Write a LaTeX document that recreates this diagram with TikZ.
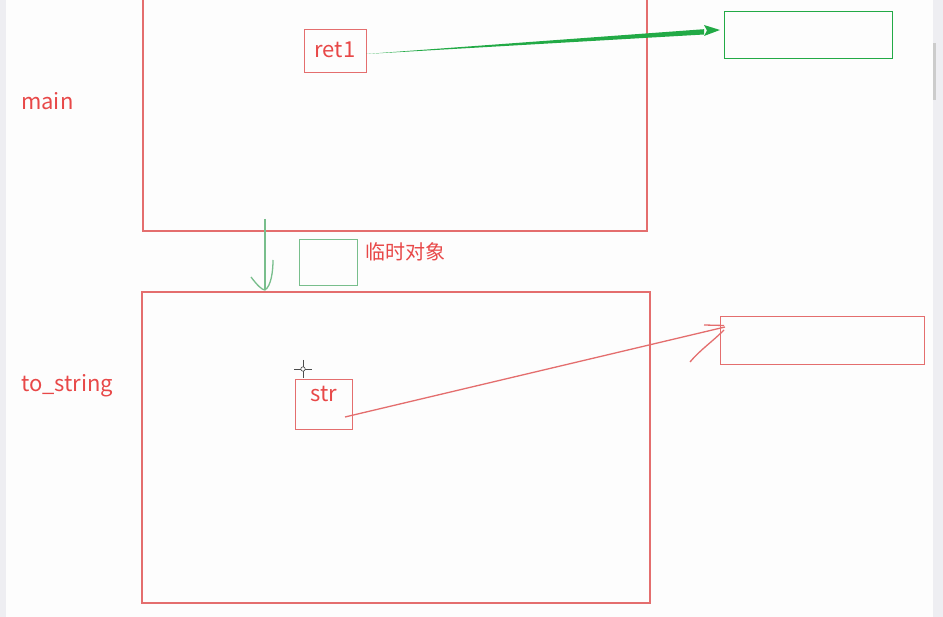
\documentclass[tikz,border=0pt]{standalone}
\usepackage{fontspec}
\setmainfont{Noto Sans CJK SC}
\usetikzlibrary{arrows.meta}
\definecolor{rd}{RGB}{228,110,110}
\definecolor{rdt}{RGB}{232,72,72}
\definecolor{gr}{RGB}{34,170,70}
\definecolor{lgr}{RGB}{120,190,140}
\definecolor{bg}{RGB}{253,253,253}
\definecolor{strip}{RGB}{238,238,242}
\begin{document}
\begin{tikzpicture}[x=1pt,y=-1pt,
  frame/.style={draw=rd,line width=1.3pt},
  txt/.style={text=rdt,font=\fontsize{22}{26}\selectfont,inner sep=0pt},
  box/.style={draw=rd,line width=1.3pt,inner sep=0pt}]
\useasboundingbox (0,0) rectangle (943,617);
\fill[bg] (0,0) rectangle (943,617);
\fill[strip] (0,0) rectangle (6,617);
\fill[strip] (933,0) rectangle (943,617);
\fill[black!20] (933,43) rectangle (936,100);
% frames
\draw[frame] (143,-2) |- (647,231) -- (647,-2);
\draw[frame] (142,292) rectangle (650,603);
\node[txt,anchor=west] (lmain) at (21,101) {main};
\node[txt,anchor=west] (lts) at (21,386) {to\_string};
% ret1
\node[box,minimum width=62pt,minimum height=43pt,anchor=north west] (ret) at (304,29) {};
\node[txt] (retl) at (335,50) {ret1};
\node[draw=gr,line width=1.2pt,minimum width=168pt,minimum height=47pt,anchor=north west,inner sep=0pt] (gbox) at (724,11) {};
\coordinate (rs) at (366,54);
\coordinate (ge) at (720,30);
\fill[gr] (rs) -- (704,29.2) -- (704,34.5) -- cycle;
\fill[gr] (704,25) -- (ge) -- (704,36) -- (707,30.5) -- cycle;
% temp object
\node[draw=lgr,line width=1.3pt,minimum width=58pt,minimum height=46pt,anchor=north west,inner sep=0pt] (tmp) at (299,239) {};
\node[anchor=west,text=rdt,font=\fontsize{20}{24}\selectfont,inner sep=0pt] (tmpl) at (365,252) {临时对象};
\coordinate (da) at (265,219);
\coordinate (db) at (265,290);
\draw[lgr,line width=1.3pt] (da) -- (db);
\draw[lgr,line width=1.3pt] (251,277) .. controls (257,285) and (262,290) .. (db) .. controls (271,286) and (273,272) .. (273,260);
% str
\node[box,minimum width=57pt,minimum height=50pt,anchor=north west] (str) at (295,379) {};
\node[txt] (strl) at (324,394) {str};
% cursor
\draw[black!70,line width=0.8pt] (294,369) -- (312,369) (303,360) -- (303,378);
\fill[white] (303,369) circle (2.2);
\draw[black!70,line width=0.6pt] (303,369) circle (2.2);
% red target
\node[box,minimum width=204pt,minimum height=48pt,anchor=north west] (rbox) at (720,316) {};
\coordinate (ss) at (345,417);
\coordinate (se) at (725,327);
\draw[rd,line width=1.3pt] (ss) -- (se);
\draw[rd,line width=1.3pt] (704,325) -- (724,325.5);
\draw[rd,line width=1.3pt] (690,362) .. controls (700,350) and (712,342) .. (724,330);
\end{tikzpicture}
\end{document}
